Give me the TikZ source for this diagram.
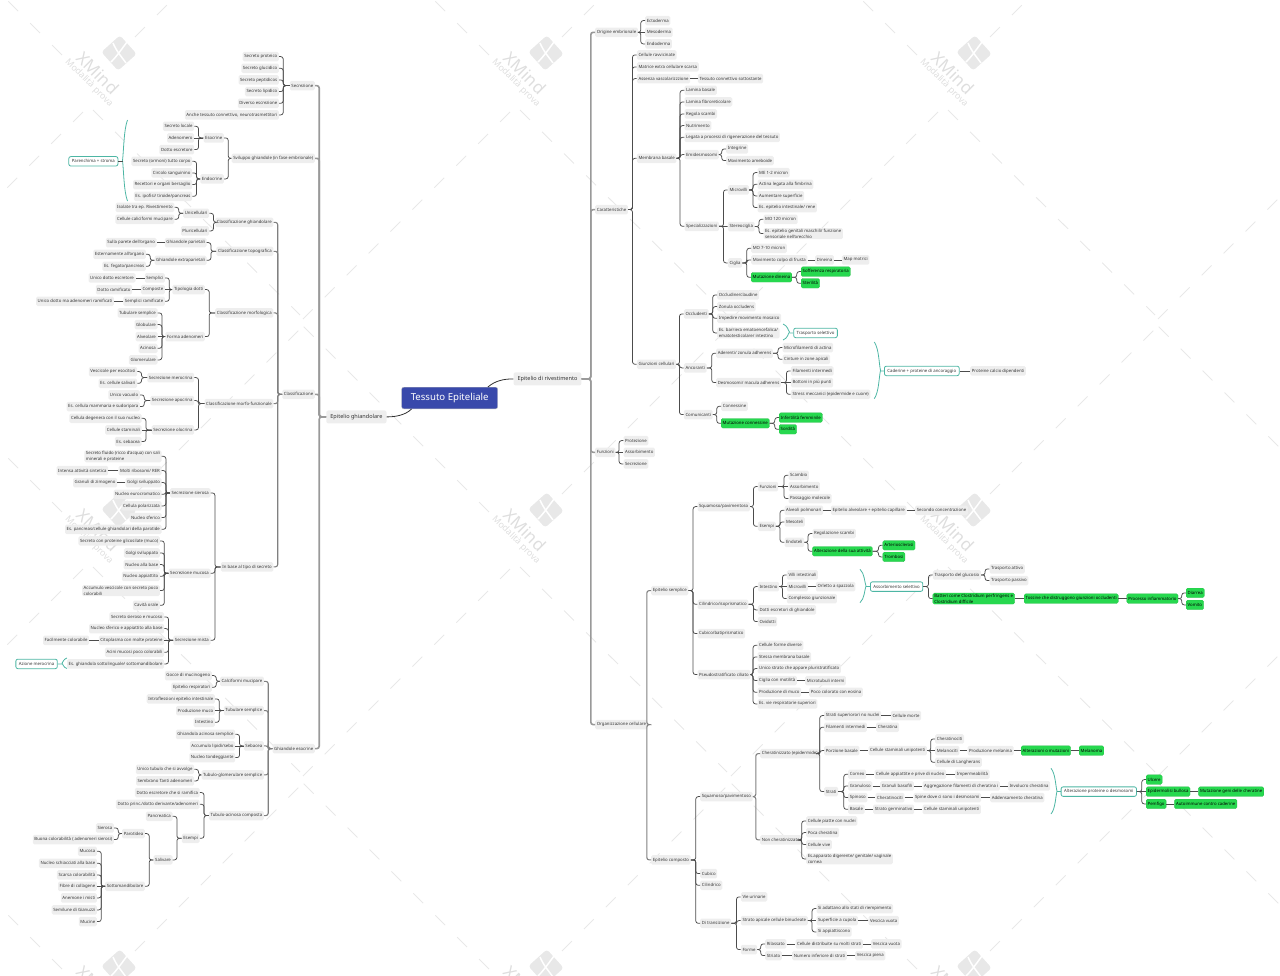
\documentclass[tikz,border=0pt]{standalone}
\usepackage{fontspec}
\setmainfont{Noto Sans}
\definecolor{boxgray}{HTML}{EEEEEE}
\definecolor{hotgreen}{HTML}{27D84F}
\definecolor{noteteal}{HTML}{4DB6A4}
\definecolor{rootblue}{HTML}{3949AB}
\definecolor{wmgray}{HTML}{E8E8E8}
\tikzset{
  box/.style={fill=boxgray, rounded corners=1.5pt, inner xsep=1.6pt, inner ysep=1pt, minimum height=9.6pt, font=\fontsize{4.3}{5.7}\selectfont, text=black!80, align=left, yshift=-.6pt},
  lnode/.style={box, anchor=east},
  rnode/.style={box, anchor=west},
  rhot/.style={rnode, fill=hotgreen, draw=hotgreen!85!black, line width=.2pt, text=black},
  note/.style={box, fill=white, draw=noteteal, line width=.8pt, minimum height=9.5pt, rounded corners=2pt, inner xsep=3pt},
  topic/.style={box, font=\fontsize{5.55}{7}\selectfont, minimum height=13pt, inner xsep=4pt, rounded corners=2pt},
  rootnode/.style={fill=rootblue, draw=black!25, line width=.4pt, rounded corners=2pt, text=white, font=\fontsize{9.6}{11}\selectfont, minimum width=96pt, minimum height=21.6pt, inner sep=0pt},
  link/.style={draw=black!70, line width=.75pt, rounded corners=2.4pt},
  sublink/.style={draw=black!50, line width=1.1pt, rounded corners=2.4pt},
  mainlink/.style={draw=black!40, line width=1.6pt, rounded corners=2.4pt},
  rootlink/.style={draw=black!80, line width=.8pt},
  notelink/.style={draw=noteteal, line width=.8pt},
  wmline/.style={draw=wmgray, line width=.9pt, dash pattern=on 14pt off 17pt},
}
% one parent to one child: straight when they sit on the same row
\newcommand{\kidlink}[6]{%
  \pgfpointanchor{#2}{#3}\pgfgetlastxy{\px}{\py}%
  \pgfpointanchor{#4}{#5}\pgfgetlastxy{\kx}{\ky}%
  \pgfmathsetmacro{\dy}{abs(\py-\ky)}%
  \ifdim\dy pt<.5pt
    \draw[#1] (#2.#3) -- (#4.#5);
  \else
    \draw[#1] (#2.#3) -| ([xshift=#6]#4.#5) -- (#4.#5);
  \fi}
\newcommand{\rlinks}[3][link]{\foreach \kid in {#3} {\kidlink{#1}{#2}{east}{\kid}{west}{-4.2pt}}}
\newcommand{\llinks}[3][link]{\foreach \kid in {#3} {\kidlink{#1}{#2}{west}{\kid}{east}{4.2pt}}}
% summary bracket: open ends x, tip x, top y, bottom y
\newcommand{\summary}[4]{\draw[notelink] (#1,#3) .. controls ({#1+.75*(#2-#1)},{#3+.12*(#4-#3)}) and ({#1+.75*(#2-#1)},{#3+.38*(#4-#3)}) .. (#2,{.5*(#3+#4)}) .. controls ({#1+.75*(#2-#1)},{#3+.62*(#4-#3)}) and ({#1+.75*(#2-#1)},{#3+.88*(#4-#3)}) .. (#1,#4);}
\begin{document}
\begin{tikzpicture}[x=1pt,y=-1pt]
\useasboundingbox (0,0) rectangle (1280,975);

% watermark
\begin{scope}
\clip (0,0) rectangle (1280,975);
\foreach \cx in {95,522,950,1377} {
\foreach \cy in {100,557,1014} {
\begin{scope}[shift={(\cx,\cy)}]
\draw[wmline] (-2,10) -- (205,215);
\draw[wmline] (-12,12) -- (-219,219);
\draw[wmline] (-33,-45) -- (-219,-231);
\draw[wmline] (40,-63) -- (207,-230);
\end{scope}
}}
\foreach \cx in {95,522,950} {
\foreach \cy in {100,557,1014} {
\begin{scope}[shift={(\cx,\cy)}]
\node[fill=wmgray, rounded corners=3pt, minimum size=25pt, inner sep=0pt, rotate=42] (wmlogo) at (24,-47) {};
\draw[white, line width=1.5pt] (18,-57) .. controls (22,-48) and (26,-44) .. (31,-37);
\draw[white, line width=1.5pt] (32,-58) .. controls (26,-50) and (22,-44) .. (16,-38);
\node[rotate=-45, text=black!13, font=\fontsize{17}{17}\selectfont\bfseries, inner sep=0pt] (wmname) at (3,-27) {XMind};
\end{scope}
}
\foreach \cy in {100,557} {
\node[rotate=-45, text=black!13, font=\fontsize{9}{9}\selectfont, inner sep=0pt] (wmtrial) at (\cx-6,\cy-17) {Modalità prova};
}}
\end{scope}

% root
\node[rootnode] (root) at (449.7,398) {Tessuto Epiteliale};
\node[topic, anchor=east] (gl) at (386.7,416.3) {Epitelio ghiandolare};
\node[topic, anchor=west] (riv) at (513.3,378.3) {Epitelio di rivestimento};
\draw[rootlink] ([xshift=10pt]root.south west) .. controls +(-6,6) and (396,416.9) .. (gl.east);
\draw[rootlink] ([xshift=-10pt]root.north east) .. controls +(7,-6) and (503,378.9) .. (riv.west);

% left side
\node[lnode] (sec) at (315,85) {Secrezione};
\node[lnode] (svi) at (315,157.7) {Sviluppo ghiandole (in fase embrionale)};
\node[lnode] (cla) at (315,393.7) {Classificazione};
\node[lnode] (eso) at (315,748) {Ghiandole esocrine};
\llinks[mainlink]{gl}{sec,svi,cla,eso}

\node[lnode] (sec1) at (279,56) {Secreto proteico};
\node[lnode] (sec2) at (279,67.7) {Secreto glucidico};
\node[lnode] (sec3) at (279,79.3) {Secreto peptidicos};
\node[lnode] (sec4) at (279,91) {Secreto lipidico};
\node[lnode] (sec5) at (279,102.7) {Diverso escrezione};
\node[lnode] (sec6) at (279,114.3) {Anche tessuto connettivo, neurotrasmettitori};
\llinks{sec}{sec1,sec2,sec3,sec4,sec5,sec6}

\node[lnode] (esoc) at (224,137.3) {Esocrine};
\node[lnode] (endo) at (224,178.3) {Endocrine};
\llinks{svi}{esoc,endo}
\node[lnode] (esoc1) at (194.3,125.7) {Secreto locale};
\node[lnode] (esoc2) at (194.3,137.3) {Adenomero};
\node[lnode] (esoc3) at (194.3,149) {Dotto escretore};
\llinks{esoc}{esoc1,esoc2,esoc3}
\node[lnode] (endo1) at (192.3,160.7) {Secreto (ormoni) tutto corpo};
\node[lnode] (endo2) at (192.3,172.3) {Circolo sanguinino};
\node[lnode] (endo3) at (192.3,184) {Recettori e organi bersaglio};
\node[lnode] (endo4) at (192.3,195.7) {Es. ipofisi/ tiroide/pancreas};
\llinks{endo}{endo1,endo2,endo3,endo4}
\node[note, anchor=east] (parench) at (118.3,160.7) {Parenchima + stroma};
\summary{127.5}{122.5}{120}{201}
\coordinate (parenchtip) at (122.5,161.3);
\draw[link] (parench.east) -- (parenchtip);

\node[lnode] (cl1) at (273.5,221.7) {Classificazione ghiandolare};
\node[lnode] (cl2) at (273.5,250.7) {Classificazione topografica};
\node[lnode] (cl3) at (273.5,312.3) {Classificazione morfologica};
\node[lnode] (cl4) at (273.5,403) {Classificazione morfo-funzionale};
\node[lnode] (cl5) at (273.5,566.3) {In base al tipo di secreto};
\llinks[sublink]{cla}{cl1,cl2,cl3,cl4,cl5}

\node[lnode] (uni) at (209.3,212.7) {Unicellulari};
\node[lnode] (pluri) at (209.3,230.3) {Pluricellulari};
\llinks{cl1}{uni,pluri}
\node[lnode] (uni1) at (174.5,206.7) {Isolate tra ep. Rivestimento};
\node[lnode] (uni2) at (174.5,218.7) {Cellule caliciformi mucipare};
\llinks{uni}{uni1,uni2}

\node[lnode] (par) at (206.7,242) {Ghiandole parietali};
\node[lnode] (ext) at (206.7,259.7) {Ghiandole extraparietali};
\llinks{cl2}{par,ext}
\node[lnode] (par1) at (156.7,242) {Sulla parete dell'organo};
\llinks{par}{par1}
\node[lnode] (ext1) at (146,253.7) {Esternamente all'organo};
\node[lnode] (ext2) at (146,265.7) {Es. fegato/pancreas};
\llinks{ext}{ext1,ext2}

\node[lnode] (tip) at (205,289) {Tipologia dotti};
\node[lnode] (for) at (205,336) {Forma adenomeri};
\llinks{cl3}{tip,for}
\node[lnode] (tip1) at (165,277.3) {Semplici};
\node[lnode] (tip2) at (165,289) {Composte};
\node[lnode] (tip3) at (165,300.7) {Semplici ramificate};
\llinks{tip}{tip1,tip2,tip3}
\node[lnode] (tip1a) at (135.7,277.3) {Unico dotto escretore};
\llinks{tip1}{tip1a}
\node[lnode] (tip2a) at (132.3,289) {Dotto ramificato};
\llinks{tip2}{tip2a}
\node[lnode] (tip3a) at (114,300.7) {Unico dotto ma adenomeri ramificati};
\llinks{tip3}{tip3a}
\node[lnode] (for1) at (157.7,312.3) {Tubulare semplice};
\node[lnode] (for2) at (157.7,324) {Globulare};
\node[lnode] (for3) at (157.7,336) {Alveolare};
\node[lnode] (for4) at (157.7,347.7) {Acinosa};
\node[lnode] (for5) at (157.7,359.3) {Glomerulare};
\llinks{for}{for1,for2,for3,for4,for5}

\node[lnode] (mer) at (194.3,377) {Secrezione merocrina};
\node[lnode] (apo) at (194.3,400) {Secrezione apocrina};
\node[lnode] (olo) at (194.3,429.3) {Secrezione olocrina};
\llinks{cl4}{mer,apo,olo}
\node[lnode] (mer1) at (137.3,371) {Vescicole per esocitosi};
\node[lnode] (mer2) at (137.3,382.7) {Es. cellule salivari};
\llinks{mer}{mer1,mer2}
\node[lnode] (apo1) at (140,394.3) {Unico vacuolo};
\node[lnode] (apo2) at (140,406) {Es. cellula mammaria e sudoripara};
\llinks{apo}{apo1,apo2}
\node[lnode] (olo1) at (141.7,417.7) {Cellula degenera con il suo nucleo};
\node[lnode] (olo2) at (141.7,429.3) {Cellule staminali};
\node[lnode] (olo3) at (141.7,441) {Es. sebacea};
\llinks{olo}{olo1,olo2,olo3}

\node[lnode] (sie) at (210.7,492.3) {Secrezione sierosa};
\node[lnode] (muc) at (210.7,572.7) {Secrezione mucosa};
\node[lnode] (mis) at (210.7,639.7) {Secrezione mista};
\llinks{cl5}{sie,muc,mis}
\node[lnode] (sie1) at (161.7,455.7) {Secreto fluido (ricco d'acqua) con sali\\minerali e proteine};
\node[lnode] (sie2) at (161.7,470) {Molti ribosomi/ RER};
\node[lnode] (sie3) at (161.7,482) {Golgi sviluppato};
\node[lnode] (sie4) at (161.7,493.7) {Nucleo eurocromatico};
\node[lnode] (sie5) at (161.7,505.3) {Cellula polarizzata};
\node[lnode] (sie6) at (161.7,517) {Nucleo sferico};
\node[lnode] (sie7) at (161.7,528.7) {Es. pancreas/cellule ghiandolari della parotide};
\llinks{sie}{sie1,sie2,sie3,sie4,sie5,sie6,sie7}
\node[lnode] (sie2a) at (108.3,470) {Intensa attività sintetica};
\llinks{sie2}{sie2a}
\node[lnode] (sie3a) at (117.3,482) {Granuli di zimogeno};
\llinks{sie3}{sie3a}
\node[lnode] (muc1) at (160,540.3) {Secreto con proteine glicosilate (muco)};
\node[lnode] (muc2) at (160,552.3) {Golgi sviluppato};
\node[lnode] (muc3) at (160,564) {Nucleo alla base};
\node[lnode] (muc4) at (160,575.7) {Nucleo appiattito};
\node[lnode] (muc5) at (160,590) {Accumulo vescicole con secreto poco\\colorabili};
\node[lnode] (muc6) at (160,604.7) {Cavità orale};
\llinks{muc}{muc1,muc2,muc3,muc4,muc5,muc6}
\node[lnode] (mis1) at (164.3,616.3) {Secreto sieroso e mucoso};
\node[lnode] (mis2) at (164.3,628) {Nucleo sferico e appiattito alla base};
\node[lnode] (mis3) at (164.3,639.7) {Citoplasma con molte proteine};
\node[lnode] (mis4) at (164.3,651.7) {Acini mucosi poco colorabili};
\node[lnode] (mis5) at (164.3,663.3) {Es. ghiandola sottolinguale/ sottomandibolare};
\llinks{mis}{mis1,mis2,mis3,mis4,mis5}
\node[lnode] (mis3a) at (89.3,639.7) {Facilmente colorabile};
\llinks{mis3}{mis3a}
\node[note, anchor=east] (azione) at (57.7,663.3) {Azione merocrina};
\summary{67}{62}{658}{668.5}
\coordinate (azionetip) at (62,663.9);
\draw[notelink] (azione.east) -- (azionetip);

\node[lnode] (es1) at (264,680.7) {Calciformi mucipare};
\node[lnode] (es2) at (264,710) {Tubulare semplice};
\node[lnode] (es3) at (264,745.3) {Sebacea};
\node[lnode] (es4) at (264,774.3) {Tubulo-glomerulare semplice};
\node[lnode] (es5) at (264,815) {Tubulo-acinosa composta};
\llinks[sublink]{eso}{es1,es2,es3,es4,es5}
\node[lnode] (es1a) at (212,675) {Gocce di mucinogeno};
\node[lnode] (es1b) at (212,686.7) {Epitelio respiratori};
\llinks{es1}{es1a,es1b}
\node[lnode] (es2a) at (215,698.3) {Introflessioni epitelio intestinale};
\node[lnode] (es2b) at (215,710) {Produzione muco};
\node[lnode] (es2c) at (215,721.7) {Intestino};
\llinks{es2}{es2a,es2b,es2c}
\node[lnode] (es3a) at (235.3,733.7) {Ghiandola acinosa semplice};
\node[lnode] (es3b) at (235.3,745.3) {Accumulo lipidi/sebo};
\node[lnode] (es3c) at (235.3,757) {Nucleo tondeggiante};
\llinks{es3}{es3a,es3b,es3c}
\node[lnode] (es4a) at (194.3,768.7) {Unico tubulo che si avvolge};
\node[lnode] (es4b) at (194.3,780.3) {Sembrano Tanti adenomeri};
\llinks{es4}{es4a,es4b}
\node[lnode] (es5a) at (199.8,792) {Dotto escretore che si ramifica};
\node[lnode] (es5b) at (199.8,803.7) {Dotto princ./dotto derivante/adenomeri};
\node[lnode] (es5c) at (199.8,837.7) {Esempi};
\llinks{es5}{es5a,es5b,es5c}
\node[lnode] (pan) at (172.7,815.7) {Pancreatica};
\node[lnode] (sal) at (172.7,859.3) {Salivare};
\llinks{es5c}{pan,sal}
\node[lnode] (pard) at (145,833) {Parotidea};
\node[lnode] (sot) at (145,885.7) {Sottomandibolare};
\llinks{sal}{pard,sot}
\node[lnode] (pard1) at (114,827.3) {Sierosa};
\node[lnode] (pard2) at (114,839) {Buona colorabilità ( adenomeri sierosi)};
\llinks{pard}{pard1,pard2}
\node[lnode] (sot1) at (97,850.7) {Mucosa};
\node[lnode] (sot2) at (97,862.7) {Nucleo schiacciati alla base};
\node[lnode] (sot3) at (97,874.3) {Scarsa colorabilità};
\node[lnode] (sot4) at (97,885.7) {Fibre di collagene};
\node[lnode] (sot5) at (97,897.3) {Anemone i misti};
\node[lnode] (sot6) at (97,909.3) {Semilune di Gianuzzi};
\node[lnode] (sot7) at (97,921) {Mucine};
\llinks{sot}{sot1,sot2,sot3,sot4,sot5,sot6,sot7}

% right side
\node[rnode] (ori) at (595,31.7) {Origine embrionale};
\node[rnode] (car) at (595,209) {Caratteristiche};
\node[rnode] (fun) at (595,451.7) {Funzioni};
\node[rnode] (org) at (595,724) {Organizzazione cellulare};
\rlinks[mainlink]{riv}{ori,car,fun,org}
\node[rnode] (ori1) at (645,20) {Ectoderma};
\node[rnode] (ori2) at (645,31.7) {Mesoderma};
\node[rnode] (ori3) at (645,43.3) {Endoderma};
\rlinks{ori}{ori1,ori2,ori3}

\node[rnode] (car1) at (636.7,54.3) {Cellule ravvicinate};
\node[rnode] (car2) at (636.7,66.3) {Matrice extra cellulare scarsa};
\node[rnode] (car3) at (636.7,78) {Assenza vascolarizzzione};
\node[rnode] (car4) at (636.7,157.7) {Membrana basale};
\node[rnode] (car5) at (636.7,363.7) {Giunzioni cellulari};
\rlinks{car}{car1,car2,car3,car4,car5}
\node[rnode] (car3a) at (697.7,78) {Tessuto connettivo sottostante};
\rlinks{car3}{car3a}

\node[rnode] (mem1) at (684.3,89.7) {Lamina basale};
\node[rnode] (mem2) at (684.3,101.3) {Lamina fibroreticolare};
\node[rnode] (mem3) at (684.3,113.3) {Regola scambi};
\node[rnode] (mem4) at (684.3,125) {Nutrimento};
\node[rnode] (mem5) at (684.3,136.7) {Legata a processi di rigenerazione del tessuto};
\node[rnode] (mem6) at (684.3,154) {Emidesmosomi};
\node[rnode] (mem7) at (684.3,225.7) {Specializzazioni};
\rlinks{car4}{mem1,mem2,mem3,mem4,mem5,mem6,mem7}
\node[rnode] (emi1) at (726,148.3) {Integrine};
\node[rnode] (emi2) at (726,160) {Movimento ameboide};
\rlinks{mem6}{emi1,emi2}
\node[rnode] (mic) at (727.7,189.3) {Microvilli};
\node[rnode] (ste) at (727.7,226) {Stereociglia};
\node[rnode] (cig) at (727.7,262.3) {Ciglia};
\rlinks{mem7}{mic,ste,cig}
\node[rnode] (mic1) at (757.3,172) {ME 1-2 micron};
\node[rnode] (mic2) at (757.3,183.7) {Actina legata alla fimbrina};
\node[rnode] (mic3) at (757.3,195.3) {Aumentare superficie};
\node[rnode] (mic4) at (757.3,207) {Es. epitelio intestinale/ rene};
\rlinks{mic}{mic1,mic2,mic3,mic4}
\node[rnode] (ste1) at (763.3,218.7) {MO 120 micron};
\node[rnode] (ste2) at (763.3,233) {Es. epitelio genitali maschili/ funzione\\sensoriale nell'orecchio};
\rlinks{ste}{ste1,ste2}
\node[rnode] (cig1) at (751,247.7) {MO 7-10 micron};
\node[rnode] (cig2) at (751,259.3) {Movimento colpo di frusta};
\node[rhot] (cig3) at (751,276.7) {Mutazione dineina};
\rlinks{cig}{cig1,cig2,cig3}
\node[rnode] (dyn) at (815,259.3) {Dineina};
\node[rnode] (map) at (841.7,259.3) {Map motrici};
\rlinks{cig2}{dyn}
\rlinks{dyn}{map}
\node[rhot] (cig3a) at (801,271) {Sofferenza respiratoria};
\node[rhot] (cig3b) at (801,282.7) {Sterilità};
\rlinks{cig3}{cig3a,cig3b}

\node[rnode] (occ) at (683.7,313.3) {Occludenti};
\node[rnode] (anc) at (683.7,367.3) {Ancoranti};
\node[rnode] (com) at (683.7,414) {Comunicanti};
\rlinks{car5}{occ,anc,com}
\node[rnode] (occ1) at (717,294.3) {Occludine/claudine};
\node[rnode] (occ2) at (717,306) {Zonula occludens};
\node[rnode] (occ3) at (717,317.7) {Impedire movimento mosaico};
\node[rnode] (occ4) at (717,332.3) {Es. barriera ematoencefalica/\\ematotesticolare/ intestino};
\rlinks{occ}{occ1,occ2,occ3,occ4}
\summary{783}{789.5}{324}{340}
\node[note, anchor=west] (tra) at (793.3,332.3) {Trasporto selettivo};
\coordinate (tratip) at (789.5,332.9);
\draw[notelink] (tratip) -- (tra.west);
\node[rnode] (ade) at (716,352.7) {Aderenti/ zonula adherens};
\node[rnode] (des) at (716,382) {Desmosomi/ macula adherens};
\rlinks{anc}{ade,des}
\node[rnode] (ade1) at (782.3,347) {Microfilamenti di actina};
\node[rnode] (ade2) at (782.3,358.7) {Cinture in zone apicali};
\rlinks{ade}{ade1,ade2}
\node[rnode] (des1) at (790.7,370.3) {Filamenti intermedi};
\node[rnode] (des2) at (790.7,382) {Bottoni in più punti};
\node[rnode] (des3) at (790.7,393.7) {Stress meccanici (epidermide e cuore)};
\rlinks{des}{des1,des2,des3}
\summary{874.3}{880.5}{342}{398.7}
\node[note, anchor=west] (cad) at (884,370.3) {Caderine + proteine di ancoraggio};
\coordinate (cadtip) at (880.5,370.9);
\draw[notelink] (cadtip) -- (cad.west);
\node[rnode] (cad1) at (970,370.3) {Proteine calcio dipendenti};
\rlinks{cad}{cad1}
\node[rnode] (com1) at (721,405.7) {Connessine};
\node[rhot] (com2) at (721,422.7) {Mutazione connessine};
\rlinks{com}{com1,com2}
\node[rhot] (com2a) at (779,417) {Infertilità femminile};
\node[rhot] (com2b) at (779,428.7) {Sordità};
\rlinks{com2}{com2a,com2b}

\node[rnode] (fun1) at (623.3,440) {Protezione};
\node[rnode] (fun2) at (623.3,451.7) {Assorbimento};
\node[rnode] (fun3) at (623.3,463.3) {Secrezione};
\rlinks{fun}{fun1,fun2,fun3}

\node[rnode] (sem) at (651,590) {Epitelio semplice};
\node[rnode] (cmp) at (651,859.3) {Epitelio composto};
\rlinks[sublink]{org}{sem,cmp}

\node[rnode] (squ) at (697.3,506) {Squamoso/pavimentoso};
\node[rnode] (cil) at (697.3,603.7) {Cilindrico/isoprismatico};
\node[rnode] (cub) at (697.3,633) {Cubico/batiprismatico};
\node[rnode] (pse) at (697.3,674) {Pseudostratificato ciliato};
\rlinks{sem}{squ,cil,cub,pse}
\node[rnode] (sfun) at (757.7,486) {Funzioni};
\node[rnode] (sesm) at (757.7,525.7) {Esempi};
\rlinks{squ}{sfun,sesm}
\node[rnode] (sfun1) at (788.3,474.7) {Scambio};
\node[rnode] (sfun2) at (788.3,486) {Assorbimento};
\node[rnode] (sfun3) at (788.3,498) {Passaggio molecole};
\rlinks{sfun}{sfun1,sfun2,sfun3}
\node[rnode] (alv) at (784.3,509.7) {Alveoli polmonari};
\node[rnode] (mes) at (784.3,521.3) {Mesoteli};
\node[rnode] (end) at (784.3,541.7) {Endoteli};
\rlinks{sesm}{alv,mes,end}
\node[rnode] (alv1) at (830.7,509.7) {Epitelio alveolare + epitelio capillare};
\node[rnode] (alv2) at (915,509.7) {Secondo concentrazione};
\rlinks{alv}{alv1}
\rlinks{alv1}{alv2}
\node[rnode] (end1) at (812.3,533) {Regolazione scambi};
\node[rhot] (end2) at (812.3,550.7) {Alterazione della sua attività};
\rlinks{end}{end1,end2}
\node[rhot] (end2a) at (882.7,544.7) {Arteriosclerosi};
\node[rhot] (end2b) at (882.7,556.3) {Trombosi};
\rlinks{end2}{end2a,end2b}

\node[rnode] (int) at (757.7,586) {Intestino};
\node[rnode] (dot) at (757.7,609.3) {Dotti escretori di ghiandole};
\node[rnode] (ovi) at (757.7,621) {Ovidotti};
\rlinks{cil}{int,dot,ovi}
\node[rnode] (int1) at (786.7,574.3) {Villi intestinali};
\node[rnode] (int2) at (786.7,586) {Microvilli};
\node[rnode] (int3) at (786.7,598) {Complesso giunzionale};
\rlinks{int}{int1,int2,int3}
\node[rnode] (int2a) at (815.7,586) {Orletto a spazzola};
\rlinks{int2}{int2a}
\summary{860}{866}{569.3}{602.7}
\node[note, anchor=west] (ass) at (870,586) {Assorbimento selettivo};
\coordinate (asstip) at (866,586.6);
\draw[notelink] (asstip) -- (ass.west);
\node[rnode] (glu) at (932.7,574.3) {Trasporto del glucosio};
\node[rhot] (bat) at (932.7,598) {Batteri come Clostridium perfringens e\\Clostridium difficile};
\rlinks{ass}{glu,bat}
\node[rnode] (glu1) at (989.3,568.3) {Trasporto attivo};
\node[rnode] (glu2) at (989.3,580) {Trasporto passivo};
\rlinks{glu}{glu1,glu2}
\node[rhot] (tos) at (1024,598) {Tossine che distruggono giunzioni occludenti};
\node[rhot] (pro) at (1126.7,598) {Processo infiammatorio};
\rlinks{bat}{tos}
\rlinks{tos}{pro}
\node[rhot] (dia) at (1186,592.3) {Diarrea};
\node[rhot] (vom) at (1186,604.3) {Vomito};
\rlinks{pro}{dia,vom}

\node[rnode] (pse1) at (757.3,644.7) {Cellule forme diverse};
\node[rnode] (pse2) at (757.3,656.3) {Stessa membrana basale};
\node[rnode] (pse3) at (757.3,668) {Unico strato che appare pluristratificato};
\node[rnode] (pse4) at (757.3,680) {Ciglia con motilità};
\node[rnode] (pse5) at (757.3,691.7) {Produzione di muco};
\node[rnode] (pse6) at (757.3,703.3) {Es. vie respiratorie superiori};
\rlinks{pse}{pse1,pse2,pse3,pse4,pse5,pse6}
\node[rnode] (pse4a) at (805,680) {Microtubuli interni};
\rlinks{pse4}{pse4a}
\node[rnode] (pse5a) at (809,691.7) {Poco colorato con eosina};
\rlinks{pse5}{pse5a}

\node[rnode] (csq) at (700,796) {Squamoso/pavimentoso};
\node[rnode] (ccub) at (700,873) {Cubico};
\node[rnode] (ccil) at (700,884.7) {Cilindrico};
\node[rnode] (ctra) at (700,922.7) {Di transizione};
\rlinks{cmp}{csq,ccub,ccil,ctra}
\node[rnode] (che) at (760,753) {Cheratinizzato (epidermide)};
\node[rnode] (nch) at (760,839.3) {Non cheratinizzato};
\rlinks[sublink]{csq}{che,nch}
\node[rnode] (che1) at (824,715) {Strati superiorori no nuclei};
\node[rnode] (che2) at (824,726.7) {Filamenti intermedi};
\node[rnode] (che3) at (824,750) {Porzione basale};
\node[rnode] (che4) at (824,791) {Strati};
\rlinks{che}{che1,che2,che3,che4}
\node[rnode] (che1a) at (890.7,715) {Cellule morte};
\rlinks{che1}{che1a}
\node[rnode] (che2a) at (876,726.7) {Cheratina};
\rlinks{che2}{che2a}
\node[rnode] (sta) at (868.3,750) {Cellule staminali unipotenti};
\rlinks{che3}{sta}
\node[rnode] (sta1) at (935,738.3) {Cheratinociti};
\node[rnode] (sta2) at (935,750) {Melanociti};
\node[rnode] (sta3) at (935,761.7) {Cellule di Langherans};
\rlinks{sta}{sta1,sta2,sta3}
\node[rnode] (mel1) at (967.3,750) {Produzione melanina};
\node[rhot] (mel2) at (1021,750) {Alterazioni o mutazioni};
\node[rhot] (mel3) at (1079,750) {Melanoma};
\rlinks{sta2}{mel1}
\rlinks{mel1}{mel2}
\rlinks{mel2}{mel3}

\node[rnode] (cor) at (848,773.7) {Corneo};
\node[rnode] (gra) at (848,785.3) {Granuloso};
\node[rnode] (spi) at (848,797) {Spinoso};
\node[rnode] (bas) at (848,808.7) {Basale};
\rlinks{che4}{cor,gra,spi,bas}
\node[rnode] (cor1) at (874.3,773.7) {Cellule appiattite e prive di nucleo};
\node[rnode] (cor2) at (955,773.7) {Impermeabilità};
\rlinks{cor}{cor1}
\rlinks{cor1}{cor2}
\node[rnode] (gra1) at (880,785.3) {Granuli basofili};
\node[rnode] (gra2) at (922.3,785.3) {Aggregazione filamenti di cheratina i};
\node[rnode] (gra3) at (1007.7,785.3) {Involucro cheratina};
\rlinks{gra}{gra1}
\rlinks{gra1}{gra2}
\rlinks{gra2}{gra3}
\node[rnode] (spi1) at (875.3,797) {Cheratinociti};
\node[rnode] (spi2) at (913.3,797) {Spine dove ci sono i desmosomi};
\node[rnode] (spi3) at (990,797) {Addensamento cheratina};
\rlinks{spi}{spi1}
\rlinks{spi1}{spi2}
\rlinks{spi2}{spi3}
\node[rnode] (bas1) at (873,808.7) {Strato germinativo};
\node[rnode] (bas2) at (922.3,808.7) {Cellule staminali unipotenti};
\rlinks{bas}{bas1}
\rlinks{bas1}{bas2}
\summary{1051}{1057}{768.3}{814}
\node[note, anchor=west] (alt) at (1060.7,791) {Alterazione proteine o desmosomi};
\coordinate (alttip) at (1057,791.6);
\draw[notelink] (alttip) -- (alt.west);
\node[rhot] (alt1) at (1146,779) {Ulcere};
\node[rhot] (alt2) at (1146,791) {Epidermolisi bullosa};
\node[rhot] (alt3) at (1146,803.3) {Pemfigo};
\rlinks{alt}{alt1,alt2,alt3}
\node[rhot] (alt2a) at (1198.3,791) {Mutazione geni delle cheratine};
\rlinks{alt2}{alt2a}
\node[rhot] (alt3a) at (1174.3,803.3) {Autoimmune contro caderine};
\rlinks{alt3}{alt3a}

\node[rnode] (nch1) at (806,820.3) {Cellule piatte con nuclei};
\node[rnode] (nch2) at (806,832) {Poca cheratina};
\node[rnode] (nch3) at (806,844) {Cellule vive};
\node[rnode] (nch4) at (806,858.3) {Es.apparato digerente/ genitale/ vaginale\\cornea};
\rlinks{nch}{nch1,nch2,nch3,nch4}

\node[rnode] (vie) at (740.7,896.3) {Vie urinarie};
\node[rnode] (api) at (740.7,920) {Strato apicale cellule binucleate};
\node[rnode] (fme) at (740.7,949) {Forme};
\rlinks{ctra}{vie,api,fme}
\node[rnode] (api1) at (816.3,908) {Si adattano allo stati di riempimento};
\node[rnode] (api2) at (816.3,920) {Superficie a cupola};
\node[rnode] (api3) at (816.3,931.3) {Si appiattiscono};
\rlinks{api}{api1,api2,api3}
\node[rnode] (api2a) at (868.3,920) {Vescica vuota};
\rlinks{api2}{api2a}
\node[rnode] (ril) at (765,943.3) {Rilassato};
\node[rnode] (str) at (765,955) {Striato};
\rlinks{fme}{ril,str}
\node[rnode] (ril1) at (795.3,943.3) {Cellule distribuite su molti strati};
\node[rnode] (ril2) at (871,943.3) {Vescica vuota};
\rlinks{ril}{ril1}
\rlinks{ril1}{ril2}
\node[rnode] (str1) at (792,955) {Numero inferiore di strati};
\node[rnode] (str2) at (855,955) {Vescica piena};
\rlinks{str}{str1}
\rlinks{str1}{str2}
\end{tikzpicture}
\end{document}
